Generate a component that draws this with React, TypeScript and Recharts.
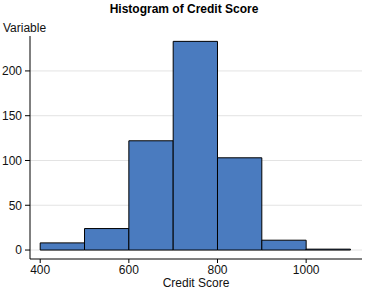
import { ComposedChart, ReferenceArea, ReferenceLine, Scatter, XAxis, YAxis } from 'recharts';

const binStarts = [400, 500, 600, 700, 800, 900, 1000];
const binWidth = 100;
const counts = [8, 24, 122, 233, 103, 11, 1];
const xTicks = [400, 600, 800, 1000];
const yTicks = [0, 50, 100, 150, 200];

const bins = binStarts.map((lo, i) => ({ lo, hi: lo + binWidth, mid: lo + binWidth / 2, count: counts[i] }));

const font = '"Liberation Sans", Arial, sans-serif';
const tickStyle = { fontSize: 12, fill: '#111', fontFamily: font };

export default function App() {
  return (
    <div style={{ position: 'absolute', left: 0, top: 0, width: 368, height: 293, background: '#fff', fontFamily: font }}>
      <div style={{ position: 'absolute', top: 2, width: 368, textAlign: 'center', fontSize: 12, fontWeight: 'bold', color: '#000' }}>
        Histogram of Credit Score
      </div>
      <div style={{ position: 'absolute', left: 3, top: 21, fontSize: 12, color: '#111' }}>Variable</div>
      <div style={{ position: 'absolute', top: 276, left: 30, width: 332, textAlign: 'center', fontSize: 12, color: '#111' }}>
        Credit Score
      </div>
      <ComposedChart width={368} height={293} data={bins} margin={{ top: 36, right: 6, bottom: 0, left: 0 }}>
        <XAxis
          type="number"
          dataKey="mid"
          domain={[377, 1126]}
          ticks={xTicks}
          allowDataOverflow
          height={34}
          tick={tickStyle}
          tickSize={4}
          tickMargin={2}
          stroke="#000"
        />
        <YAxis
          type="number"
          domain={[-10, 239]}
          ticks={yTicks}
          allowDataOverflow
          width={30}
          tick={tickStyle}
          tickSize={5}
          tickMargin={3}
          stroke="#000"
        />
        {yTicks.map((t) => (
          <ReferenceLine key={t} y={t} stroke="#e3e3e3" strokeWidth={1} {...({ zIndex: 50 } as any)} />
        ))}
        {bins.map((b) => (
          <ReferenceArea
            key={b.lo}
            x1={b.lo}
            x2={b.hi}
            y1={0}
            y2={b.count}
            fill="#4a7bbf"
            fillOpacity={1}
            stroke="#000"
            strokeWidth={1}
            ifOverflow="visible"
            {...({ zIndex: 100 } as any)}
          />
        ))}
        <Scatter dataKey="count" fill="none" shape={() => null} isAnimationActive={false} />
      </ComposedChart>
    </div>
  );
}
